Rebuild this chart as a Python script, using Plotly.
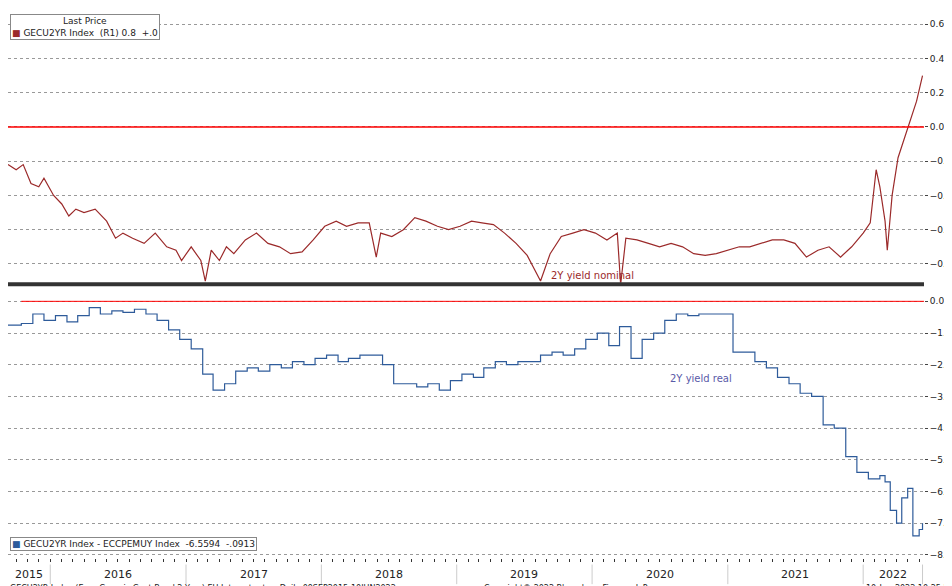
import plotly.graph_objects as go
import pandas as pd

# nominal 2Y yield (GECU2YR), approx monthly readings
nom_dates = ["2015-09-09","2015-10-01","2015-10-20","2015-11-10","2015-12-01","2015-12-15","2016-01-10","2016-02-01",
             "2016-02-20","2016-03-10","2016-04-01","2016-05-01","2016-06-01","2016-06-25","2016-07-15","2016-08-10",
             "2016-09-10","2016-10-10","2016-11-10","2016-12-05","2016-12-20","2017-01-15","2017-02-10","2017-02-22",
             "2017-03-10","2017-04-01","2017-04-20","2017-05-10","2017-06-10","2017-07-10","2017-08-10","2017-09-10",
             "2017-10-10","2017-11-10","2017-12-10","2018-01-10","2018-02-10","2018-03-10","2018-04-10","2018-05-10",
             "2018-05-29","2018-06-10","2018-07-10","2018-08-10","2018-09-10","2018-10-10","2018-11-10","2018-12-10",
             "2019-01-10","2019-02-10","2019-03-10","2019-04-10","2019-05-10","2019-06-10","2019-07-10","2019-08-15",
             "2019-09-10","2019-10-10","2019-11-10","2019-12-10","2020-01-10","2020-02-10","2020-03-09","2020-03-18",
             "2020-04-01","2020-05-01","2020-06-01","2020-07-01","2020-08-01","2020-09-01","2020-10-01","2020-11-01",
             "2020-12-01","2021-01-01","2021-02-01","2021-03-01","2021-04-01","2021-05-01","2021-06-01","2021-07-01",
             "2021-08-01","2021-09-01","2021-10-01","2021-11-01","2021-12-01","2022-01-01","2022-01-20","2022-02-05",
             "2022-02-15","2022-03-01","2022-03-07","2022-03-20","2022-04-05","2022-04-25","2022-05-10","2022-05-25",
             "2022-06-10"]
nom_vals = [-0.22,-0.25,-0.22,-0.33,-0.35,-0.30,-0.40,-0.45,
            -0.52,-0.48,-0.50,-0.48,-0.55,-0.65,-0.62,-0.65,
            -0.68,-0.62,-0.70,-0.72,-0.78,-0.70,-0.78,-0.90,
            -0.72,-0.78,-0.70,-0.74,-0.66,-0.62,-0.68,-0.70,
            -0.74,-0.73,-0.66,-0.58,-0.55,-0.58,-0.56,-0.56,
            -0.76,-0.62,-0.64,-0.60,-0.53,-0.55,-0.58,-0.60,
            -0.58,-0.55,-0.56,-0.57,-0.62,-0.68,-0.75,-0.90,
            -0.74,-0.64,-0.62,-0.60,-0.62,-0.66,-0.62,-0.92,
            -0.65,-0.66,-0.68,-0.70,-0.68,-0.70,-0.74,-0.75,
            -0.74,-0.72,-0.70,-0.70,-0.68,-0.66,-0.66,-0.68,
            -0.76,-0.72,-0.70,-0.76,-0.70,-0.62,-0.56,-0.25,
            -0.35,-0.55,-0.72,-0.40,-0.18,-0.05,0.05,0.15,
            0.30]

# real 2Y yield (nominal minus CPI), monthly steps
real_dates = ["2015-09-09","2015-10-15","2015-11-15","2015-12-15","2016-01-15","2016-02-15","2016-03-15","2016-04-15",
              "2016-05-15","2016-06-15","2016-07-15","2016-08-15","2016-09-15","2016-10-15","2016-11-15","2016-12-15",
              "2017-01-15","2017-02-15","2017-03-15","2017-04-15","2017-05-15","2017-06-15","2017-07-15","2017-08-15",
              "2017-09-15","2017-10-15","2017-11-15","2017-12-15","2018-01-15","2018-02-15","2018-03-15","2018-04-15",
              "2018-05-15","2018-06-15","2018-07-15","2018-08-15","2018-09-15","2018-10-15","2018-11-15","2018-12-15",
              "2019-01-15","2019-02-15","2019-03-15","2019-04-15","2019-05-15","2019-06-15","2019-07-15","2019-08-15",
              "2019-09-15","2019-10-15","2019-11-15","2019-12-15","2020-01-15","2020-02-15","2020-03-15","2020-04-15",
              "2020-05-15","2020-06-15","2020-07-15","2020-08-15","2020-09-15","2020-10-15","2020-11-15","2020-12-15",
              "2021-01-15","2021-02-15","2021-03-15","2021-04-15","2021-05-15","2021-06-15","2021-07-15","2021-08-15",
              "2021-09-15","2021-10-15","2021-11-15","2021-12-15","2022-01-15","2022-02-15","2022-03-01","2022-03-15",
              "2022-04-01","2022-04-15","2022-05-01","2022-05-15","2022-06-01","2022-06-10"]
real_vals = [-0.75,-0.70,-0.40,-0.60,-0.45,-0.65,-0.45,-0.20,
             -0.40,-0.30,-0.35,-0.25,-0.40,-0.60,-0.90,-1.20,
             -1.50,-2.30,-2.80,-2.60,-2.20,-2.10,-2.20,-2.00,
             -2.10,-1.90,-2.00,-1.80,-1.70,-1.90,-1.80,-1.70,
             -1.70,-2.00,-2.60,-2.60,-2.70,-2.60,-2.80,-2.50,
             -2.30,-2.40,-2.10,-1.90,-2.00,-1.90,-1.90,-1.70,
             -1.60,-1.70,-1.50,-1.20,-1.00,-1.40,-0.80,-1.80,
             -1.20,-1.00,-0.60,-0.40,-0.45,-0.40,-0.40,-0.40,
             -1.60,-1.60,-1.90,-2.10,-2.40,-2.60,-2.90,-3.00,
             -3.90,-4.00,-4.90,-5.40,-5.60,-5.50,-5.70,-6.60,
             -7.00,-6.20,-5.90,-7.40,-7.20,-7.00]

years = ["2015","2016","2017","2018","2019","2020","2021","2022"]
year_starts = ["2015-09-09","2016-01-01","2017-01-01","2018-01-01","2019-01-01","2020-01-01","2021-01-01","2022-01-01"]
year_ends = ["2016-01-01","2017-01-01","2018-01-01","2019-01-01","2020-01-01","2021-01-01","2022-01-01","2022-06-10"]

fig = go.Figure()
fig.add_trace(go.Scatter(x=nom_dates, y=nom_vals, mode="lines", line=dict(color="#9b2a2a", width=1.2),
                         xaxis="x", yaxis="y", showlegend=False))
fig.add_trace(go.Scatter(x=real_dates, y=real_vals, mode="lines", line=dict(color="#2e5b9a", width=1.2, shape="hv"),
                         xaxis="x2", yaxis="y2", showlegend=False))

xr = ["2015-09-09", "2022-06-14"]
grid = dict(showgrid=True, gridcolor="#999", griddash="dot", gridwidth=1)
fig.update_layout(
    width=952, height=586, plot_bgcolor="white", paper_bgcolor="white",
    margin=dict(l=0, r=36, t=5, b=36),
    font=dict(family="DejaVu Sans", size=10, color="#222"),
    xaxis=dict(range=xr, domain=[0, 1], anchor="y", showticklabels=False, showgrid=False),
    xaxis2=dict(range=xr, domain=[0, 1], anchor="y2", showticklabels=False, showgrid=False,
                ticks="outside", ticklen=3, dtick="M1", tickcolor="#333"),
    yaxis=dict(domain=[0.505, 1], range=[-0.91, 0.665], side="right", dtick=0.2, tickformat=".1f",
               ticks="outside", ticklen=3, zeroline=False, tickfont=dict(size=9), **grid),
    yaxis2=dict(domain=[0, 0.5], range=[-8.1, 0.5], side="right", dtick=1, tickformat=".2f",
                ticks="outside", ticklen=3, zeroline=False, tickfont=dict(size=9), **grid),
)
fig.add_hline(y=0, line=dict(color="red", width=1.5), xref="x", yref="y")
fig.add_shape(type="line", xref="x2", yref="y2", x0="2015-10-15", x1=xr[1], y0=0, y1=0,
              line=dict(color="red", width=1))
fig.add_shape(type="line", xref="paper", yref="paper", x0=0, x1=1, y0=0.5025, y1=0.5025,
              line=dict(color="#333", width=4))

fig.add_annotation(x="2020-01-01", y=-0.87, xref="x", yref="y", text="2Y yield nominal", showarrow=False,
                   font=dict(color="#9b2a2a", size=10))
fig.add_annotation(x="2020-10-20", y=-2.45, xref="x2", yref="y2", text="2Y yield real", showarrow=False,
                   font=dict(color="#5a5aa8", size=10))
fig.add_annotation(x=0.002, y=0.998, xref="paper", yref="paper", xanchor="left", yanchor="top", align="center",
                   text="Last Price<br><span style='color:#9b2a2a'>■</span> GECU2YR Index  (R1) 0.8  +.0",
                   showarrow=False, bordercolor="#888", borderwidth=1, bgcolor="white", font=dict(size=9))
fig.add_annotation(x=0.002, y=0.012, xref="paper", yref="paper", xanchor="left", yanchor="bottom",
                   text="<span style='color:#2e5b9a'>■</span> GECU2YR Index - ECCPEMUY Index  -6.5594  -.0913",
                   showarrow=False, bordercolor="#888", borderwidth=1, bgcolor="white", font=dict(size=9))

# year band centred within each year span
for yr, s, e in zip(years, year_starts, year_ends):
    mid = pd.Timestamp(s) + (pd.Timestamp(e) - pd.Timestamp(s)) / 2
    fig.add_annotation(x=mid.strftime("%Y-%m-%d"), y=-0.03, xref="x2", yref="paper", yanchor="middle",
                       text=yr, showarrow=False, font=dict(size=11))
    fig.add_shape(type="line", xref="x2", yref="paper", x0=e, x1=e, y0=-0.012, y1=-0.048,
                  line=dict(color="#ccc", width=1))

fig.add_annotation(x=0, y=-0.056, xref="paper", yref="paper", xanchor="left", yanchor="middle", showarrow=False,
                   font=dict(size=8),
                   text="GECU2YR Index (Euro Generic Govt Bond 2 Year) EU Interest rates  Daily 09SEP2015-10JUN2022")
fig.add_annotation(x=0.61, y=-0.056, xref="paper", yref="paper", yanchor="middle", showarrow=False,
                   font=dict(size=8), text="Copyright© 2022 Bloomberg Finance L.P.")
fig.add_annotation(x=1.035, y=-0.056, xref="paper", yref="paper", xanchor="right", yanchor="middle",
                   showarrow=False, font=dict(size=8), text="10-Jun-2022 10:25:27")

fig.write_html("out.html")
